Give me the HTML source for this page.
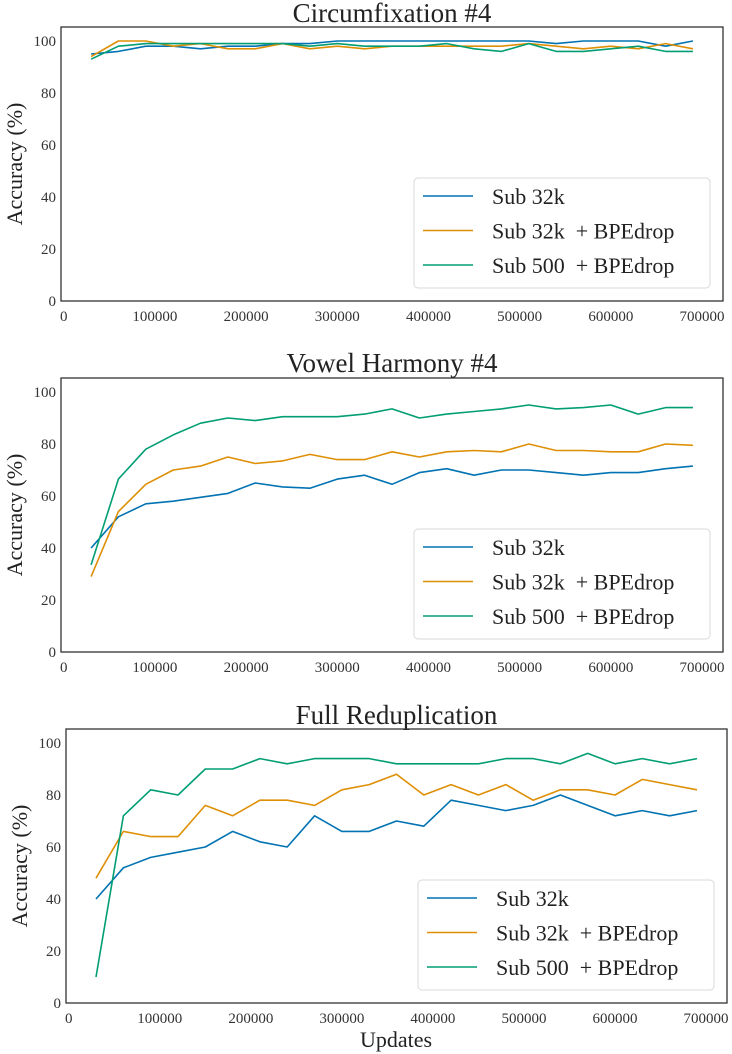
<!DOCTYPE html>
<html><head><meta charset="utf-8"><style>
html,body{margin:0;padding:0;background:#fff;}
svg{display:block;font-family:"Liberation Serif","DejaVu Serif",serif;}
svg text{white-space:pre;}
</style></head><body>
<svg id="chart" width="732" height="1054" viewBox="0 0 732 1054" xmlns="http://www.w3.org/2000/svg"></svg>
<script>
const updates = [30000,60000,90000,120000,150000,180000,210000,240000,270000,300000,330000,360000,390000,420000,450000,480000,510000,540000,570000,600000,630000,660000,690000];
const seriesNames = ["Sub 32k","Sub 32k  + BPEdrop","Sub 500  + BPEdrop"];
const circSub32k = [95,96,98,98,97,98,98,99,99,100,100,100,100,100,100,100,100,99,100,100,100,98,100];
const circSub32kDrop = [94,100,100,98,99,97,97,99,97,98,97,98,98,98,98,98,99,98,97,98,97,99,97];
const circSub500Drop = [93,98,99,99,99,99,99,99,98,99,98,98,98,99,97,96,99,96,96,97,98,96,96];
const vowelSub32k = [40,52,57,58,59.5,61,65,63.5,63,66.5,68,64.5,69,70.5,68,70,70,69,68,69,69,70.5,71.5];
const vowelSub32kDrop = [29,54,64.5,70,71.5,75,72.5,73.5,76,74,74,77,75,77,77.5,77,80,77.5,77.5,77,77,80,79.5];
const vowelSub500Drop = [33.5,66.5,78,83.5,88,90,89,90.5,90.5,90.5,91.5,93.5,90,91.5,92.5,93.5,95,93.5,94,95,91.5,94,94];
const redupSub32k = [40,52,56,58,60,66,62,60,72,66,66,70,68,78,76,74,76,80,76,72,74,72,74];
const redupSub32kDrop = [48,66,64,64,76,72,78,78,76,82,84,88,80,84,80,84,78,82,82,80,86,84,82];
const redupSub500Drop = [10,72,82,80,90,90,94,92,94,94,94,92,92,92,92,94,94,92,96,92,94,92,94];
const yTicks = [0,20,40,60,80,100];
const xTicks = [0,100000,200000,300000,400000,500000,600000,700000];
const titles = ["Circumfixation #4","Vowel Harmony #4","Full Reduplication"];
const colors = ["#0173b2","#de8f05","#029e73"];

const svg = document.getElementById('chart');
const NS = 'http://www.w3.org/2000/svg';
function mk(tag, attrs, parent){const e=document.createElementNS(NS,tag);for(const k in attrs)e.setAttribute(k,attrs[k]);(parent||svg).appendChild(e);return e;}

const panels = [
 {L:61,R:723,T:27,B:301,titleY:22,data:[circSub32k,circSub32kDrop,circSub500Drop],leg:[414,178],ylabX:22,key:'circumfixation'},
 {L:61,R:723,T:378,B:652,titleY:372,data:[vowelSub32k,vowelSub32kDrop,vowelSub500Drop],leg:[414,529],ylabX:22,key:'vowel-harmony'},
 {L:66,R:727,T:729,B:1003,titleY:724,data:[redupSub32k,redupSub32kDrop,redupSub500Drop],leg:[418,880],ylabX:27,key:'full-reduplication'}
];

panels.forEach((p,pi)=>{
  const g = mk('g',{});
  
  
  const xs = v => p.L + (v - (-3000)) / 726000 * (p.R - p.L);
  const ys = v => p.B - v / 105.4 * (p.B - p.T);
  const t = mk('text',{x:(p.L+p.R)/2,y:p.titleY,'text-anchor':'middle','font-size':27,fill:'#222'},g);
  t.textContent = titles[pi];
  
  
  yTicks.forEach(v=>{
    const tl = mk('text',{x:p.L-5,y:ys(v)+5,'text-anchor':'end','font-size':15,fill:'#333'},g);
    tl.textContent = v;
    
    
  });
  xTicks.forEach(v=>{
    const tl = mk('text',{x:xs(v),y:p.B+20,'text-anchor':'middle','font-size':15,fill:'#333'},g);
    tl.textContent = v;
    
    
  });
  const yl = mk('text',{x:p.ylabX,y:(p.T+p.B)/2,'text-anchor':'middle','font-size':22,fill:'#222',transform:`rotate(-90 ${p.ylabX} ${(p.T+p.B)/2})`},g);
  yl.textContent = 'Accuracy (%)';
  
  
  p.data.forEach((arr,si)=>{
    const pts = arr.map((v,i)=>xs(updates[i]).toFixed(1)+','+ys(v).toFixed(1)).join(' ');
    const pl = mk('polyline',{points:pts,fill:'none',stroke:colors[si],'stroke-width':1.6,'stroke-linejoin':'round'},g);
    
    
  });
  const fr = mk('rect',{x:p.L,y:p.T,width:p.R-p.L,height:p.B-p.T,fill:'none',stroke:'#333','stroke-width':1.3},g);
  
  
  const [lx,ly] = p.leg;
  const lg = mk('g',{},g);
  
  
  mk('rect',{x:lx,y:ly,width:296,height:110,rx:4,fill:'#fff','fill-opacity':0.85,stroke:'#d8d8d8','stroke-width':1},lg);
  seriesNames.forEach((n,si)=>{
    const cy = ly + 18 + si*34.5;
    const e = mk('g',{},lg);
    
    
    mk('line',{x1:lx+9,x2:lx+59,y1:cy,y2:cy,stroke:colors[si],'stroke-width':1.6},e);
    const tx = mk('text',{x:lx+78,y:cy+8,'font-size':22,fill:'#222',style:'white-space:pre'},e);
    tx.textContent = n;
  });
});
const ux = mk('text',{x:396,y:1047,'text-anchor':'middle','font-size':22,fill:'#222'});
ux.textContent = 'Updates';


</script>
</body></html>
